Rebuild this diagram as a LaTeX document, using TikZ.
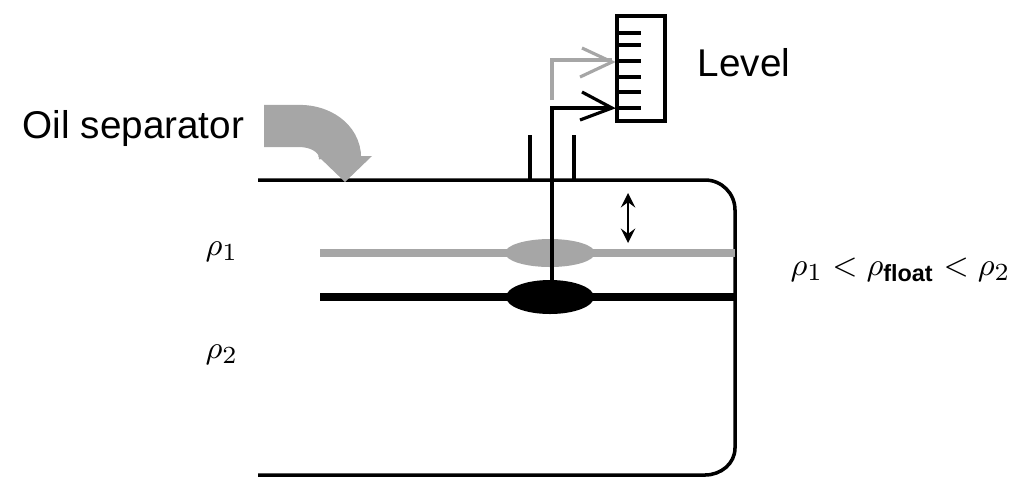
\documentclass[tikz,border=0pt]{standalone}
\usepackage{fontspec}
\setmainfont{Liberation Sans}
\begin{document}
\begin{tikzpicture}[x=0.01cm,y=-0.01cm,
  lab/.style={font=\fontsize{11}{13}\selectfont,inner sep=0},
  rho/.style={font=\fontsize{9.5}{11}\selectfont,inner sep=0},
  gr/.style={color=black!35}]
\useasboundingbox (0,0) rectangle (1024,490);
% tank
\draw[line width=1pt] (258,180) -- (705,180) to[out=0,in=90] (735,210) -- (735,448) to[out=-90,in=0] (705,475) -- (258,475);
% stubs
\draw[line width=0.9pt] (530,135) -- (530,180) (574,135) -- (574,180);
% interfaces
\draw[gr,line width=2pt] (320,253) -- (735,253);
\draw[line width=2.2pt] (320,297) -- (735,297);
\fill[black!35] (550,253) ellipse [x radius=45, y radius=14];
\fill[black] (550,297) ellipse [x radius=44, y radius=17];
% rod
\draw[line width=0.9pt] (552,297) -- (552,108) -- (612,108);
\draw[gr,line width=0.9pt] (552,100) -- (552,60) -- (612,60);
\draw[line width=0.9pt] (582,92) -- (612,108) -- (580,120);
\draw[gr,line width=0.9pt] (582,48) -- (612,62) -- (580,77);
% gauge
\draw[line width=0.9pt] (617,16) rectangle (665,121);
\foreach \y in {33,45,61,77,92,108} \draw[line width=0.9pt] (617,\y) -- (641,\y);
% double arrow
\draw[line width=0.8pt,<->,>=stealth] (628,193) -- (628,243);
% curved arrow
\draw[black!35,line width=12pt] (264,126) -- (300,126) to[out=0,in=90] (340,158);
\fill[black!35] (318,156) -- (372,156) -- (345,182) -- cycle;
% labels
\node[lab,anchor=west] (oil) at (22,128) {Oil separator};
\node[lab,anchor=west] (lev) at (697,63) {Level};
\node[rho] (r1) at (222,252) {$\rho_1$};
\node[rho] (r2) at (222,355) {$\rho_2$};
\node[rho,anchor=west] (eq) at (790,270) {$\rho_1 < \rho_{\mathbf{float}} < \rho_2$};
\end{tikzpicture}
\end{document}
